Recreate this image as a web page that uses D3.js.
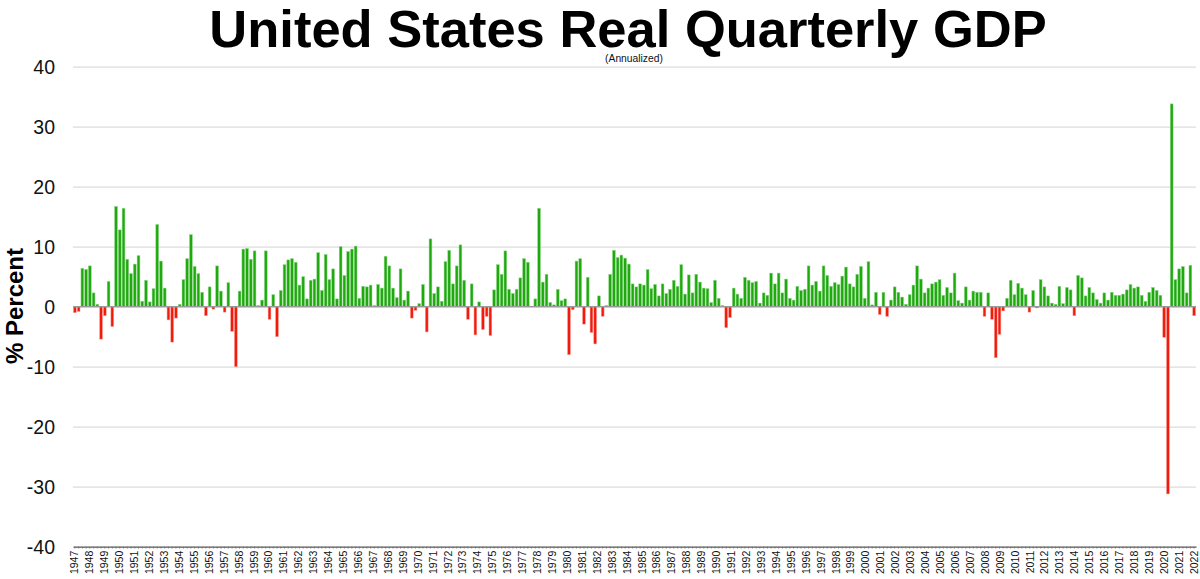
<!DOCTYPE html>
<html>
<head>
<meta charset="utf-8">
<title>United States Real Quarterly GDP</title>
<script src="https://cdn.jsdelivr.net/npm/d3@7/dist/d3.min.js"></script>
<style>
  html, body { margin: 0; padding: 0; background: #fff; }
  svg { display: block; font-family: "Liberation Sans", Arial, Helvetica, sans-serif; }
</style>
</head>
<body>
<div id="chart"></div>
<script>
// annualized real GDP growth, % per quarter, first bar is 1947 Q2
const growth = [
  -1.0, -0.8, 6.4,            // 1947
  6.2, 6.8, 2.3, 0.4,         // 1948
  -5.4, -1.5, 4.2, -3.3,      // 1949
  16.7, 12.8, 16.4, 7.9,      // 1950
  5.5, 7.1, 8.5, 0.9,         // 1951
  4.4, 0.8, 3.0, 13.7,        // 1952
  7.6, 3.1, -2.2, -5.9,       // 1953
  -1.9, 0.4, 4.5, 8.0,        // 1954
  12.0, 6.7, 5.5, 2.4,        // 1955
  -1.5, 3.3, -0.4, 6.8,       // 1956
  2.6, -0.9, 4.0, -4.1,       // 1957
  -10.0, 2.6, 9.6, 9.7,       // 1958
  7.9, 9.3, 0.2, 1.1,         // 1959
  9.3, -2.1, 2.0, -5.0,       // 1960
  2.7, 7.0, 7.8, 8.0,         // 1961
  7.4, 3.6, 5.0, 1.3,         // 1962
  4.4, 4.6, 9.0, 2.7,         // 1963
  8.7, 4.5, 6.3, 1.3,         // 1964
  10.0, 5.2, 9.2, 9.6,        // 1965
  10.1, 1.4, 3.4, 3.3,        // 1966
  3.6, 0.2, 3.7, 3.1,         // 1967
  8.4, 6.8, 3.1, 1.5,         // 1968
  6.3, 1.1, 2.6, -1.9,        // 1969
  -0.6, 0.5, 3.7, -4.2,       // 1970
  11.3, 2.2, 3.3, 0.9,        // 1971
  7.5, 9.4, 3.8, 6.8,         // 1972
  10.3, 4.4, -2.1, 3.8,       // 1973
  -4.7, 0.8, -3.8, -1.6,      // 1974
  -4.8, 2.8, 7.0, 5.4,        // 1975
  9.3, 2.9, 2.2, 2.9,         // 1976
  4.8, 8.0, 7.4, 0.1,         // 1977
  1.3, 16.4, 4.1, 5.4,        // 1978
  0.7, 0.3, 2.9, 1.0,         // 1979
  1.3, -8.0, -0.5, 7.6,       // 1980
  8.0, -2.9, 4.9, -4.3,       // 1981
  -6.2, 1.8, -1.6, 0.2,       // 1982
  5.4, 9.4, 8.2, 8.6,         // 1983
  8.1, 7.1, 3.8, 3.3,         // 1984
  3.8, 3.6, 6.2, 3.0,         // 1985
  3.7, 1.8, 3.8, 2.2,         // 1986
  2.9, 4.4, 3.4, 7.0,         // 1987
  2.1, 5.3, 2.3, 5.4,         // 1988
  4.1, 3.1, 3.0, 0.7,         // 1989
  4.4, 1.4, 0.2, -3.5,        // 1990
  -1.8, 3.1, 2.1, 1.4,        // 1991
  4.9, 4.4, 4.0, 4.2,         // 1992
  0.6, 2.3, 1.9, 5.6,         // 1993
  3.8, 5.6, 2.3, 4.6,         // 1994
  1.4, 1.1, 3.4, 2.7,         // 1995
  2.9, 6.8, 3.6, 4.2,         // 1996
  2.6, 6.8, 5.2, 3.4,         // 1997
  4.0, 3.7, 5.1, 6.6,         // 1998
  3.8, 3.3, 5.4, 6.7,         // 1999
  1.4, 7.5, 0.3, 2.4,         // 2000
  -1.3, 2.4, -1.6, 1.1,       // 2001
  3.3, 2.4, 1.6, 0.4,         // 2002
  2.0, 3.6, 6.8, 4.6,         // 2003
  2.3, 3.1, 3.8, 4.1,         // 2004
  4.5, 1.9, 3.2, 2.3,         // 2005
  5.6, 1.0, 0.6, 3.3,         // 2006
  1.1, 2.6, 2.4, 2.4,         // 2007
  -1.6, 2.3, -2.1, -8.5,      // 2008
  -4.6, -0.7, 1.4, 4.4,       // 2009
  2.0, 3.9, 3.1, 2.0,         // 2010
  -0.9, 2.7, -0.2, 4.5,       // 2011
  3.3, 1.8, 0.6, 0.4,         // 2012
  3.4, 0.5, 3.2, 2.8,         // 2013
  -1.5, 5.2, 4.8, 1.8,        // 2014
  3.2, 2.3, 1.2, 0.6,         // 2015
  2.3, 1.1, 2.4, 1.9,         // 2016
  1.9, 2.1, 2.8, 3.7,         // 2017
  3.1, 3.3, 1.9, 0.9,         // 2018
  2.4, 3.2, 2.7, 1.9,         // 2019
  -5.1, -31.2, 33.8, 4.5,     // 2020
  6.3, 6.7, 2.3, 6.9,         // 2021
  -1.5                        // 2022
];

// one label per year, spread evenly under the bars
const yearLabels = d3.range(1947, 2023).map(String);

const yTicks = [40, 30, 20, 10, 0, -10, -20, -30, -40];

const titleText = 'United States Real Quarterly GDP';
const subtitleText = '(Annualized)';
const yAxisTitle = '% Percent';

const green = '#1fa90f', greenEdge = '#8bd685';
const red = '#f01b0b', redEdge = '#f89890';

const W = 1200, H = 579;
const margin = { top: 66.7, right: 4, bottom: 32.3, left: 73 };
const width = W - margin.left - margin.right,
  height = H - margin.top - margin.bottom;

const svg = d3.select('#chart').
  append('svg').
  attr('width', W).
  attr('height', H);

const x = d3.scaleBand().
  domain(d3.range(growth.length)).
  range([0, width]).
  paddingInner(0.26).
  paddingOuter(0.13);

const y = d3.scaleLinear().domain([-40, 40]).range([height, 0]);

const chart = svg.append('g').
  attr('transform', 'translate(' + margin.left + ',' + margin.top + ')');

// gridlines
chart.append('g').
  selectAll('line').
  data(yTicks.filter(function(d) { return d !== 0 && d !== -40; })).
  enter().append('line').
    attr('x1', 0).
    attr('x2', width).
    attr('y1', function(d) { return Math.round(y(d)) + 0.5; }).
    attr('y2', function(d) { return Math.round(y(d)) + 0.5; }).
    attr('stroke', '#dcdcdc').
    attr('stroke-width', 1.2);

// y tick labels
svg.append('g').
  selectAll('text').
  data(yTicks).
  enter().append('text').
    attr('x', 55).
    attr('y', function(d) { return margin.top + y(d); }).
    attr('dy', '0.36em').
    attr('text-anchor', 'end').
    attr('font-size', 19.5).
    attr('fill', '#111').
    text(function(d) { return d; });

// bars
chart.append('g').
  selectAll('rect').
  data(growth).
  enter().append('rect').
    attr('x', function(d, i) { return x(i); }).
    attr('y', function(d) { return y(Math.max(0, d)); }).
    attr('width', x.bandwidth()).
    attr('height', function(d) { return Math.abs(y(d) - y(0)); }).
    attr('fill', function(d) { return d < 0 ? red : green; }).
    attr('stroke', function(d) { return d < 0 ? redEdge : greenEdge; }).
    attr('stroke-width', 0.5);

// zero line
chart.append('line').
  attr('x1', 0).
  attr('x2', width).
  attr('y1', y(0)).
  attr('y2', y(0)).
  attr('stroke', '#9a9a9a').
  attr('stroke-width', 1.6);

// bottom axis with one small tick per quarter
const xAxis = d3.axisBottom(x).
  tickValues(d3.range(growth.length)).
  tickSize(2).
  tickSizeOuter(0).
  tickFormat('');
chart.append('g').
  attr('transform', 'translate(0,' + height + ')').
  call(xAxis).
  call(function(g) {
    g.select('.domain').attr('stroke', '#555').attr('stroke-width', 1.2);
    g.selectAll('.tick line').attr('stroke', '#666').attr('stroke-width', 0.6);
  });

// year labels
const firstC = x(0) + x.bandwidth() / 2,
  lastC = x(growth.length - 1) + x.bandwidth() / 2;
const xl = d3.scalePoint().domain(yearLabels).range([firstC, lastC]);

chart.append('g').
  selectAll('text').
  data(yearLabels).
  enter().append('text').
    attr('transform', function(d) {
      return 'translate(' + (xl(d) + 3.6) + ',' + (height + 4) + ') rotate(-90)';
    }).
    attr('text-anchor', 'end').
    attr('font-size', 10.5).
    attr('fill', '#111').
    text(function(d) { return d; });

// titles
svg.append('text').
  attr('x', 628).
  attr('y', 47).
  attr('text-anchor', 'middle').
  attr('font-size', 52.5).
  attr('font-weight', 'bold').
  attr('fill', '#000').
  text(titleText);

svg.append('text').
  attr('x', 634).
  attr('y', 61.5).
  attr('text-anchor', 'middle').
  attr('font-size', 10.3).
  attr('fill', '#111').
  text(subtitleText);

svg.append('text').
  attr('transform', 'translate(23,306) rotate(-90)').
  attr('text-anchor', 'middle').
  attr('font-size', 24).
  attr('font-weight', 'bold').
  attr('fill', '#000').
  text(yAxisTitle);
</script>
</body>
</html>
